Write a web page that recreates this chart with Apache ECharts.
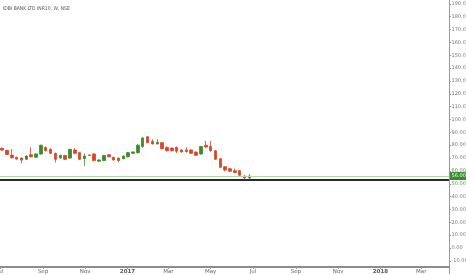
<!DOCTYPE html>
<html>
<head>
<meta charset="utf-8">
<script src="https://cdn.jsdelivr.net/npm/echarts@6/dist/echarts.min.js"></script>
<style>
html,body{margin:0;padding:0;background:#fff;}
#chart{width:466px;height:275px;}
</style>
</head>
<body>
<div id="chart"></div>
<script>
// Weekly candles, IDBI BANK LTD INR10, NSE
const firstWeek = '2016-07-04';
const weekCount = 52;
const opens  = [77.6,76.0,72.3,70.6,70.0,69.0,72.6,70.6,73.2,78.4,76.8,73.7,70.0,72.0,70.0,76.3,74.2,69.5,72.4,73.2,67.6,68.0,72.6,70.6,70.0,69.5,71.0,73.7,74.2,78.9,86.6,83.0,81.0,82.0,78.4,77.8,78.4,76.3,76.3,76.3,74.7,73.2,80.0,78.9,75.7,69.5,63.3,61.7,60.2,60.2,56.0,54.5];
const closes = [76.2,72.8,70.2,69.2,68.4,71.6,71.0,73.2,80.0,75.7,73.7,69.0,72.0,69.0,76.8,73.7,69.0,71.6,72.0,68.0,68.5,72.0,71.0,68.5,68.0,71.6,74.2,74.7,80.0,85.6,82.0,81.0,82.3,77.3,75.7,75.7,75.3,74.7,74.9,73.7,72.1,78.9,78.6,75.7,69.0,62.8,60.7,59.7,58.8,56.6,54.5,56.0];
const lows   = [75.6,72.3,69.6,68.6,65.9,68.5,70.5,70.0,72.6,75.2,73.2,66.5,69.5,68.5,69.5,73.0,68.5,63.8,71.5,67.5,67.2,67.5,70.6,68.0,66.8,69.0,70.5,73.2,73.5,78.0,81.5,80.5,80.6,76.8,75.2,75.2,73.8,74.2,74.4,73.2,71.6,72.6,78.0,75.0,68.5,62.2,59.6,59.2,58.2,56.0,53.8,53.8];
const highs  = [78.2,76.4,77.0,71.0,70.4,72.2,78.4,73.8,80.4,78.8,77.6,74.2,72.6,72.4,77.2,77.8,74.6,73.5,72.8,73.6,69.0,72.5,73.0,71.0,70.4,72.0,74.8,75.2,81.0,86.2,87.2,84.6,84.6,82.4,78.8,78.2,78.8,76.8,78.4,76.7,75.2,79.4,83.5,83.5,76.3,70.0,63.8,62.2,61.8,60.7,56.5,57.6];
const supportLevel = 53.5;
const xTickDates  = ['2016-07-01','2016-09-01','2016-11-01','2017-01-01','2017-03-01','2017-05-01','2017-07-01','2017-09-01','2017-11-01','2018-01-01','2018-03-01'];
const xTickLabels = ['Jul','Sep','Nov','2017','Mar','May','Jul','Sep','Nov','2018','Mar'];
const yMin = -20, yMax = 200, yStep = 10;

const DAY = 86400000;
const t0 = Date.parse(firstWeek + 'T00:00:00Z');
const dates = [];
for (let i = 0; i < weekCount; i++) dates.push(t0 + i * 7 * DAY);
const candleData = dates.map((d, i) => [d, opens[i], closes[i], lows[i], highs[i]]);
const tickTimes = xTickDates.map(s => Date.parse(s + 'T00:00:00Z'));
const xStart = Date.parse('2016-07-01T00:00:00Z');
const xEnd = Date.parse('2018-04-10T00:00:00Z');
const lastClose = closes[closes.length - 1];

const up = '#3b8a2b', down = '#d7462a';
const chart = echarts.init(document.getElementById('chart'), null, {renderer: 'canvas'});
chart.setOption({
  animation: false,
  backgroundColor: '#ffffff',
  title: {
    text: 'IDBI BANK LTD INR10, W, NSE',
    left: -2, top: 1,
    textStyle: {fontSize: 5, fontWeight: 'normal', color: '#555', fontFamily: 'DejaVu Sans Condensed'}
  },
  grid: [
    {left: 0, right: 17, top: -9, bottom: 1.3, containLabel: false, outerBoundsMode: 'none'},
    {left: 0, right: 17, top: 266, height: 1, containLabel: false, outerBoundsMode: 'none'}
  ],
  graphic: [{
    type: 'rect', silent: true, z: 100,
    shape: {x: 0, y: 266, width: 449, height: 1},
    style: {fill: '#8c8c8c'}
  }],
  xAxis: [{
    type: 'value', gridIndex: 0,
    min: xStart, max: xEnd,
    show: false
  }, {
    type: 'value', gridIndex: 1,
    min: xStart, max: xEnd,
    position: 'bottom',
    axisLine: {show: true, onZero: false, lineStyle: {color: '#8c8c8c', width: 1}},
    axisTick: {show: true, length: 2, customValues: tickTimes, lineStyle: {color: '#9a9a9a'}},
    splitLine: {show: false},
    axisLabel: {
      customValues: tickTimes,
      fontSize: 5.5, color: '#666', margin: 2, fontFamily: 'DejaVu Sans',
      formatter: function (v) {
        const k = tickTimes.indexOf(v);
        const s = k >= 0 ? xTickLabels[k] : '';
        return /^\d{4}$/.test(s) ? '{b|' + s + '}' : s;
      },
      rich: {b: {fontSize: 5.5, fontWeight: 'bold', color: '#555', fontFamily: 'DejaVu Sans'}}
    }
  }],
  yAxis: [{
    type: 'value', gridIndex: 0,
    position: 'right',
    min: yMin, max: yMax, interval: yStep,
    axisLine: {show: true, lineStyle: {color: '#9a9a9a'}},
    axisTick: {show: true, length: 2, lineStyle: {color: '#9a9a9a'}},
    splitLine: {show: false},
    axisLabel: {
      fontSize: 5, color: '#777', margin: 2.5, fontFamily: 'DejaVu Sans',
      showMinLabel: false, showMaxLabel: false,
      formatter: v => v.toFixed(2)
    }
  }, {
    type: 'value', gridIndex: 1, show: false
  }],
  series: [{
    type: 'candlestick',
    xAxisIndex: 0, yAxisIndex: 0,
    data: candleData,
    barWidth: 3,
    itemStyle: {color: up, color0: down, borderColor: up, borderColor0: down, borderWidth: 0.8},
    markLine: {
      silent: true,
      symbol: ['none', 'none'],
      data: [
        {yAxis: lastClose, lineStyle: {color: '#b6d8a8', width: 1, type: 'solid'},
          label: {show: true, position: 'end', distance: 1, formatter: lastClose.toFixed(2),
            color: '#fff', backgroundColor: up, fontSize: 5, padding: [1.5, 1.5], fontFamily: 'DejaVu Sans'}},
        {yAxis: supportLevel, lineStyle: {color: '#2a2a2a', width: 2, type: 'solid'}, label: {show: false}}
      ]
    }
  }]
});
</script>
</body>
</html>
